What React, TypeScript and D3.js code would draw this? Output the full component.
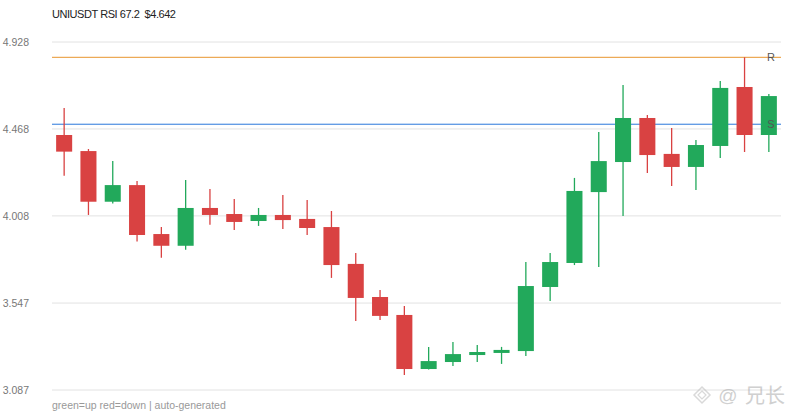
import React from "react";
import * as d3 from "d3";

const title = "UNIUSDT RSI 67.2  $4.642";
const footer = "green=up red=down | auto-generated";

const opens = [4.436, 4.351, 4.083, 4.171, 3.912, 3.850, 4.050, 4.018, 3.981, 4.013, 3.992, 3.949, 3.754, 3.579, 3.484, 3.198, 3.235, 3.272, 3.283, 3.293, 3.632, 3.759, 4.134, 4.293, 4.526, 4.336, 4.267, 4.378, 4.690, 4.436];
const closes = [4.348, 4.083, 4.171, 3.907, 3.850, 4.050, 4.013, 3.976, 4.013, 3.986, 3.944, 3.748, 3.574, 3.479, 3.198, 3.240, 3.277, 3.288, 3.299, 3.637, 3.764, 4.140, 4.298, 4.526, 4.330, 4.267, 4.383, 4.685, 4.436, 4.642];
const highs = [4.579, 4.362, 4.298, 4.193, 3.949, 4.198, 4.150, 4.097, 4.050, 4.119, 4.092, 4.034, 3.812, 3.616, 3.531, 3.315, 3.341, 3.325, 3.315, 3.764, 3.812, 4.209, 4.452, 4.701, 4.542, 4.473, 4.410, 4.722, 4.847, 4.653];
const lows = [4.221, 4.013, 4.073, 3.872, 3.787, 3.829, 3.961, 3.933, 3.955, 3.939, 3.907, 3.680, 3.452, 3.457, 3.166, 3.195, 3.214, 3.235, 3.225, 3.267, 3.558, 3.748, 3.738, 4.008, 4.235, 4.166, 4.145, 4.314, 4.346, 4.346];

const yTicks = [3.087, 3.547, 4.008, 4.468, 4.928];
const resistance = 4.847;
const support = 4.493;

const UP = "#22a95b";
const DOWN = "#d94242";

export default function App() {
  const W = 800, H = 420;
  const left = 52, right = 781, top = 42, bottom = 390;
  const idx = opens.map((_, i) => i);
  const x = d3.scaleBand<number>().domain(idx).range([left, right]).paddingInner(0.34).paddingOuter(0.17);
  const y = d3.scaleLinear().domain([3.087, 4.928]).range([bottom, top]);
  const font = "'Liberation Sans', Arial, sans-serif";

  return (
    <svg width={W} height={H} style={{ position: "absolute", left: 0, top: 0, background: "#fff" }} fontFamily={font}>
      <text x={52} y={18} fontSize={11} fill="#222" letterSpacing={-0.45} style={{ whiteSpace: "pre" }}>{title}</text>
      {yTicks.map((t) => (
        <g key={t}>
          <line x1={left} x2={right} y1={y(t)} y2={y(t)} stroke="#e2e2e2" strokeWidth={1} />
          <text x={29} y={y(t) + 4} fontSize={10.5} fill="#777" textAnchor="end">{t.toFixed(3)}</text>
        </g>
      ))}
      <line x1={left} x2={right} y1={y(resistance)} y2={y(resistance)} stroke="#e8952e" strokeWidth={1} />
      <line x1={left} x2={right} y1={y(support)} y2={y(support)} stroke="#2a78dc" strokeWidth={1} />
      {idx.map((i) => {
        const up = closes[i] >= opens[i];
        const c = up ? UP : DOWN;
        const cx = (x(i) as number) + x.bandwidth() / 2;
        const yt = y(Math.max(opens[i], closes[i]));
        const yb = y(Math.min(opens[i], closes[i]));
        return (
          <g key={i}>
            <line x1={cx} x2={cx} y1={y(highs[i])} y2={y(lows[i])} stroke={c} strokeWidth={1.3} />
            <rect x={x(i)} y={yt} width={x.bandwidth()} height={Math.max(1, yb - yt)} fill={c} />
          </g>
        );
      })}
      <text x={771} y={y(resistance) + 4} fontSize={11} fill="#555" textAnchor="middle">R</text>
      <text x={771} y={y(support) + 4} fontSize={11} fill="#555" textAnchor="middle">S</text>
      <text x={52} y={409} fontSize={10.5} fill="#999">{footer}</text>
      <g opacity={0.55}>
        <path d="M702,387 L710,395 L702,403 L694,395 Z" fill="none" stroke="#bbb" strokeWidth={1.5} />
        <path d="M702,391 L706,395 L702,399 L698,395 Z" fill="none" stroke="#bbb" strokeWidth={1.2} />
        <text x={728} y={402} fontSize={19} fill="#aaa" textAnchor="middle">@</text>
        <text x={745} y={403} fontSize={20} fill="#aaa" fontFamily="'Noto Sans CJK SC', sans-serif">兄长</text>
      </g>
    </svg>
  );
}
